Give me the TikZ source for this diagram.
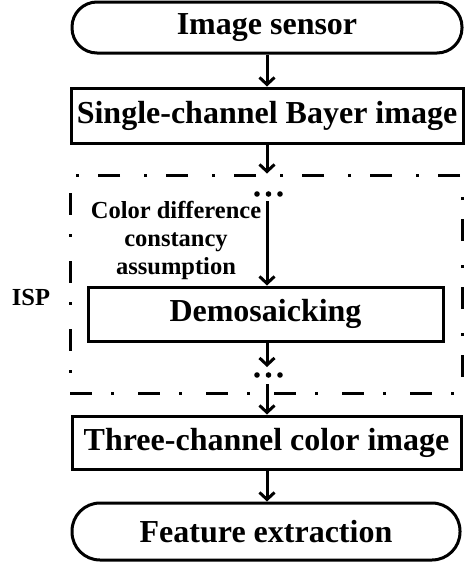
\documentclass[tikz,border=0pt]{standalone}
\usepackage{fontspec}
\setmainfont{Liberation Serif}
\usetikzlibrary{arrows.meta}
\begin{document}
\begin{tikzpicture}[x=1pt,y=-1pt,
  font=\bfseries,
  box/.style={draw, line width=3pt, inner sep=0pt, font=\fontsize{32}{36}\selectfont\bfseries},
  term/.style={box, rounded corners=25pt},
  arr/.style={line width=3pt, -{Straight Barb[length=7pt,width=15pt,line width=3pt]}},
  ispbox/.style={draw, line width=3pt, dash pattern=on 22pt off 19pt on 3pt off 24pt, inner sep=0pt},
  dotfill/.style={fill=black},
  note/.style={align=center, font=\fontsize{24.5}{28}\selectfont\bfseries}
]
\useasboundingbox (0,0) rectangle (474,566);
\node[term, minimum width=390pt, minimum height=51pt] (sensor) at (267,27.5) {Image sensor};
\node[box, minimum width=392pt, minimum height=55pt] (bayer) at (267,115.5) {Single-channel Bayer image};
\node[ispbox, minimum width=392pt, minimum height=218pt] (isp) at (266,284) {};
\coordinate (dtop) at (268.5,194);
\node[note] (cda) at (176,240) {Color difference\\constancy\\assumption};
\node[box, minimum width=355pt, minimum height=54pt] (demo) at (265.5,314) {Demosaicking};
\coordinate (dbot) at (268.5,375);
\coordinate (c1) at (267,384);
\node[box, minimum width=389pt, minimum height=53pt] (three) at (266.5,442.5) {Three-channel color image};
\node[term, rounded corners=28pt, minimum width=388pt, minimum height=57pt] (feat) at (266,531.5) {Feature extraction};
\node[font=\fontsize{24.5}{28}\selectfont\bfseries] (isplabel) at (31,298) {ISP};

\foreach \d in {-11.5,0,11.5} {
  \fill[dotfill] (dtop) ++(\d,0) circle (2.8pt);
  \fill[dotfill] (dbot) ++(\d,0) circle (2.8pt);
}

\draw[arr] (sensor.south -| 267,0) -- (267,0 |- bayer.north);
\draw[arr] (bayer.south -| 267,0) -- (267,0 |- isp.north);
\draw[arr] (267,201) -- (267,0 |- demo.north);
\draw[arr] (demo.south -| 267,0) -- (267,367);
\draw[arr] (c1) -- (c1 |- three.north);
\draw[arr] (three.south -| 267,0) -- (267,0 |- feat.north);
\end{tikzpicture}
\end{document}
